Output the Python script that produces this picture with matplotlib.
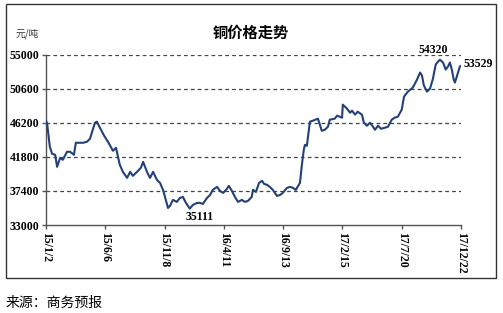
import matplotlib.pyplot as plt
from matplotlib.patches import Rectangle

# days since 2015-01-02 and copper price (yuan/ton)
days = [0, 3, 10, 16, 24, 29, 37, 44, 55, 63, 73, 78, 84, 97, 107, 115, 128, 133,
        141, 152, 162, 175, 183, 191, 193, 201, 212, 220, 227, 238, 248, 254, 264,
        272, 280, 290, 298, 306, 319, 324, 332, 342, 350, 358, 366, 376, 384, 395,
        403, 410, 421, 429, 436, 447, 455, 463, 473, 478, 486, 494, 502, 512, 520,
        528, 538, 541, 549, 557, 565, 570, 578, 585, 593, 604, 612, 619, 630, 638,
        646, 653, 664, 669, 674, 677, 682, 690, 698, 711, 721, 729, 737, 742, 755,
        761, 774, 776, 787, 795, 800, 808, 815, 826, 831, 839, 847, 855, 860, 868,
        876, 886, 894, 904, 912, 920, 930, 936, 946, 959, 970, 978, 983, 988, 996,
        1004, 1011, 1019, 1025, 1030, 1038, 1045, 1051, 1056, 1061, 1066, 1069,
        1074, 1082, 1085]
price = [46460, 46070, 43090, 42190, 42060, 40510, 41670, 41410, 42450, 42450,
         42060, 43610, 43610, 43610, 43740, 44130, 46200, 46330, 45550, 44520,
         43740, 42580, 42960, 41150, 40760, 39860, 39080, 39860, 39340, 39860,
         40380, 41150, 39860, 39080, 39860, 38820, 38440, 37530, 35200, 35460,
         36240, 35980, 36490, 36620, 35850, 35111, 35590, 35850, 35850, 35720,
         36490, 36880, 37530, 37920, 37400, 37140, 37660, 38050, 37400, 36620,
         35980, 36240, 35980, 36110, 36620, 37530, 37270, 38440, 38690, 38310,
         38180, 37920, 37530, 36750, 36880, 37140, 37790, 37920, 37790, 37530,
         38440, 40760, 42710, 43350, 43220, 46330, 46460, 46720, 45160, 45290,
         45680, 46590, 46720, 47110, 46850, 48530, 48010, 47490, 47750, 47240,
         47620, 47240, 46200, 45810, 46200, 45680, 45290, 45810, 45420, 45550,
         45680, 46590, 46850, 46980, 47880, 49560, 50210, 50730, 51760, 52670,
         52280, 50990, 50210, 50600, 51760, 53710, 54090, 54320, 53960, 53060,
         53450, 53960, 53060, 51760, 51380, 52150, 53450, 53529]

tick_days = [0, 155, 310, 465, 620, 775, 930, 1085]
tick_labels = ['15/1/2', '15/6/6', '15/11/8', '16/4/11', '16/9/13', '17/2/15',
               '17/7/20', '17/12/22']
y_ticks = [33000, 37400, 41800, 46200, 50600, 55000]

serif = 'Liberation Serif'
cjk = ['Noto Sans CJK SC', 'DejaVu Sans']

fig = plt.figure(figsize=(5.03, 3.13), dpi=100)
fig.patch.set_facecolor('white')
fig.patches.append(Rectangle((6 / 503, 1 - 278 / 313), 490 / 503, 274 / 313,
                             transform=fig.transFigure, fill=False,
                             edgecolor='#333333', linewidth=1.0))

ax = fig.add_axes([46 / 503, 1 - 225 / 313, 415 / 503, 170.5 / 313])
ax.plot(days, price, color='#22417a', linewidth=1.5, zorder=3)

ax.set_xlim(0, 1085)
ax.set_ylim(33000, 55000)
ax.set_yticks(y_ticks)
ax.set_yticklabels([str(v) for v in y_ticks], fontfamily=serif,
                   fontweight='bold', fontsize=8.5)
ax.set_xticks(tick_days)
ax.set_xticklabels(tick_labels, rotation=270, fontfamily=serif,
                   fontweight='bold', fontsize=8.5, va='top', ha='center')
for v in y_ticks[1:]:
    ax.axhline(v, color='#444444', linestyle=(0, (3, 2.5)), linewidth=0.9, zorder=1)

for s in ['top', 'right']:
    ax.spines[s].set_visible(False)
for s in ['left', 'bottom']:
    ax.spines[s].set_color('#555555')
    ax.spines[s].set_linewidth(1.0)
ax.tick_params(axis='both', direction='out', length=3, width=1.0,
               color='#555555', pad=2)

# point labels
ax.annotate('54320', (1030, 54320), xytext=(-7, 10), textcoords='offset pixels',
            ha='center', va='center', fontfamily=serif, fontweight='bold',
            fontsize=8.5)
ax.annotate('53529', (1085, 53529), xytext=(3, 2), textcoords='offset pixels',
            ha='left', va='center', fontfamily=serif, fontweight='bold',
            fontsize=8.5, annotation_clip=False)
ax.annotate('35111', (376, 35111), xytext=(10, -8), textcoords='offset pixels',
            ha='center', va='center', fontfamily=serif, fontweight='bold',
            fontsize=8.5)

fig.text(251 / 503, 1 - 33 / 313, '铜价格走势', ha='center', va='center',
         family=cjk, fontweight='bold', fontsize=11)
fig.text(16 / 503, 1 - 34 / 313, '元/吨', ha='left', va='center',
         family=cjk, fontsize=7, color='#333333')
fig.text(6 / 503, 1 - 303 / 313, '来源：商务预报', ha='left', va='center',
         family=cjk, fontsize=10)

fig.savefig('out.png', dpi=100)
